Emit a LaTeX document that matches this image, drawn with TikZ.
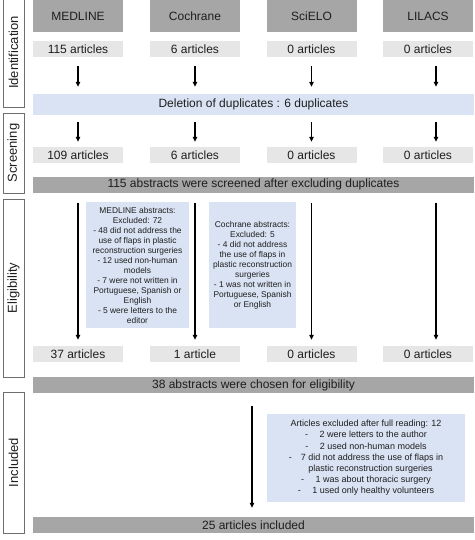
\documentclass[tikz,border=0pt]{standalone}
\usepackage{fontspec}
\setmainfont{Liberation Sans}
\usepackage{tikz}
\usetikzlibrary{arrows.meta, positioning}

\definecolor{hdgray}{RGB}{166,166,166}
\definecolor{ltgray}{RGB}{231,230,230}
\definecolor{ltblue}{RGB}{218,227,243}
\definecolor{stgray}{RGB}{110,110,110}
\definecolor{txt}{RGB}{30,30,30}

\begin{document}
\begin{tikzpicture}[x=1pt, y=-1pt,
    head/.style={fill=hdgray, minimum width=90pt, minimum height=32pt, inner sep=0pt,
                 text=txt, font=\fontsize{12}{14}\selectfont},
    cnt/.style={fill=ltgray, minimum width=90pt, minimum height=16pt, inner sep=0pt,
                text=txt, font=\fontsize{12}{14}\selectfont},
    bar/.style={fill=hdgray, minimum width=441pt, minimum height=16pt, inner sep=0pt,
                text=txt, font=\fontsize{12}{14}\selectfont},
    note/.style={fill=ltblue, align=center, inner sep=0pt, text=txt,
                 font=\fontsize{8.4}{10}\selectfont},
    stage/.style={draw=stgray, line width=0.8pt, rotate=90, minimum height=21pt,
                  inner sep=0pt, text=txt, font=\fontsize{13}{15}\selectfont},
    arr/.style={-{Triangle[length=5pt, width=4.5pt]}, line width=1.4pt}
]
    \useasboundingbox (0,0) rectangle (474,540);

    % stages on the left
    \node[stage, minimum width=109pt] (ident) at (13.5,52.5) {Identification};
    \node[stage, minimum width=80pt]  (scr)   at (13.5,153) {Screening};
    \node[stage, minimum width=178pt] (elig)  at (13.5,288) {Eligibility};
    \node[stage, minimum width=141pt] (incl)  at (13.5,462.5) {Included};

    % databases
    \node[head] (med) at (78,16) {MEDLINE};
    \node[head] (coc) at (195,16) {Cochrane};
    \node[head] (sci) at (311.5,16) {SciELO};
    \node[head] (lil) at (428,16) {LILACS};

    \node[cnt, below=9pt of med] (med1) {115 articles};
    \node[cnt, below=9pt of coc] (coc1) {6 articles};
    \node[cnt, below=9pt of sci] (sci1) {0 articles};
    \node[cnt, below=9pt of lil] (lil1) {0 articles};

    \node[fill=ltblue, minimum width=441pt, minimum height=21pt, inner sep=0pt,
          text=txt, font=\fontsize{12}{14}\selectfont] (del) at (253.5,104.5)
          {Deletion of duplicates : 6 duplicates};

    \node[cnt] (med2) at (78,155) {109 articles};
    \node[cnt] (coc2) at (195,155) {6 articles};
    \node[cnt] (sci2) at (311.5,155) {0 articles};
    \node[cnt] (lil2) at (428,155) {0 articles};

    \node[bar] (scrbar) at (253.5,184.5) {115 abstracts were screened after excluding duplicates};

    % eligibility
    \node[note, minimum width=103pt, minimum height=126pt] (mednote) at (137.5,265)
        {MEDLINE abstracts:\\ Excluded: 72\\ - 48 did not address the\\ use of flaps in plastic\\
         reconstruction surgeries\\ - 12 used non-human\\ models\\ - 7 were not written in\\
         Portuguese, Spanish or\\ English\\ - 5 were letters to the\\ editor};
    \node[note, minimum width=87pt, minimum height=126pt] (cocnote) at (252.5,265)
        {Cochrane abstracts:\\ Excluded: 5\\ - 4 did not address\\ the use of flaps in\\
         plastic reconstruction\\ surgeries\\ - 1 was not written in\\ Portuguese, Spanish\\ or English};

    \node[cnt] (med3) at (78,354) {37 articles};
    \node[cnt] (coc3) at (195,354) {1 article};
    \node[cnt] (sci3) at (311.5,354) {0 articles};
    \node[cnt] (lil3) at (428,354) {0 articles};

    \node[bar] (eligbar) at (253.5,385) {38 abstracts were chosen for eligibility};

    % included
    \node[note, minimum width=198pt, minimum height=88pt,
          font=\fontsize{9}{11.2}\selectfont] (fullnote) at (366,458)
        {Articles excluded after full reading: 12\\
         -\quad\ 2 were letters to the author\\
         -\quad\ 2 used non-human models\\
         -\quad 7 did not address the use of flaps in\\
         \quad plastic reconstruction surgeries\\
         -\quad\ 1 was about thoracic surgery\\
         -\quad\ 1 used only healthy volunteers};

    \node[bar] (inclbar) at (253.5,525) {25 articles included};

    \draw[arr, shorten <=8pt, shorten >=7pt] (med1.south) -- (med1.south |- del.north);
    \draw[arr, shorten <=8pt, shorten >=7pt] (coc1.south) -- (coc1.south |- del.north);
    \draw[arr, shorten <=8pt, shorten >=7pt] (sci1.south) -- (sci1.south |- del.north);
    \draw[arr, shorten <=8pt, shorten >=7pt] ([xshift=8pt]lil1.south) -- ([xshift=8pt]lil1.south |- del.north);

    \draw[arr, shorten <=7pt, shorten >=5pt] (med2.north |- del.south) -- (med2.north);
    \draw[arr, shorten <=7pt, shorten >=5pt] (coc2.north |- del.south) -- (coc2.north);
    \draw[arr, shorten <=7pt, shorten >=5pt] (sci2.north |- del.south) -- (sci2.north);
    \draw[arr, shorten <=7pt, shorten >=5pt] ([xshift=8pt]lil2.north |- del.south) -- ([xshift=8pt]lil2.north);

    \draw[arr, shorten <=10pt, shorten >=6pt] (med3.north |- scrbar.south) -- (med3.north);
    \draw[arr, shorten <=10pt, shorten >=6pt] (coc3.north |- scrbar.south) -- (coc3.north);
    \draw[arr, shorten <=10pt, shorten >=6pt] (sci3.north |- scrbar.south) -- (sci3.north);
    \draw[arr, shorten <=10pt, shorten >=6pt] ([xshift=8pt]lil3.north |- scrbar.south) -- ([xshift=8pt]lil3.north);

    \draw[arr, shorten <=13pt, shorten >=9pt] ([xshift=-1.5pt]eligbar.south) -- ([xshift=-1.5pt]inclbar.north);
\end{tikzpicture}
\end{document}
